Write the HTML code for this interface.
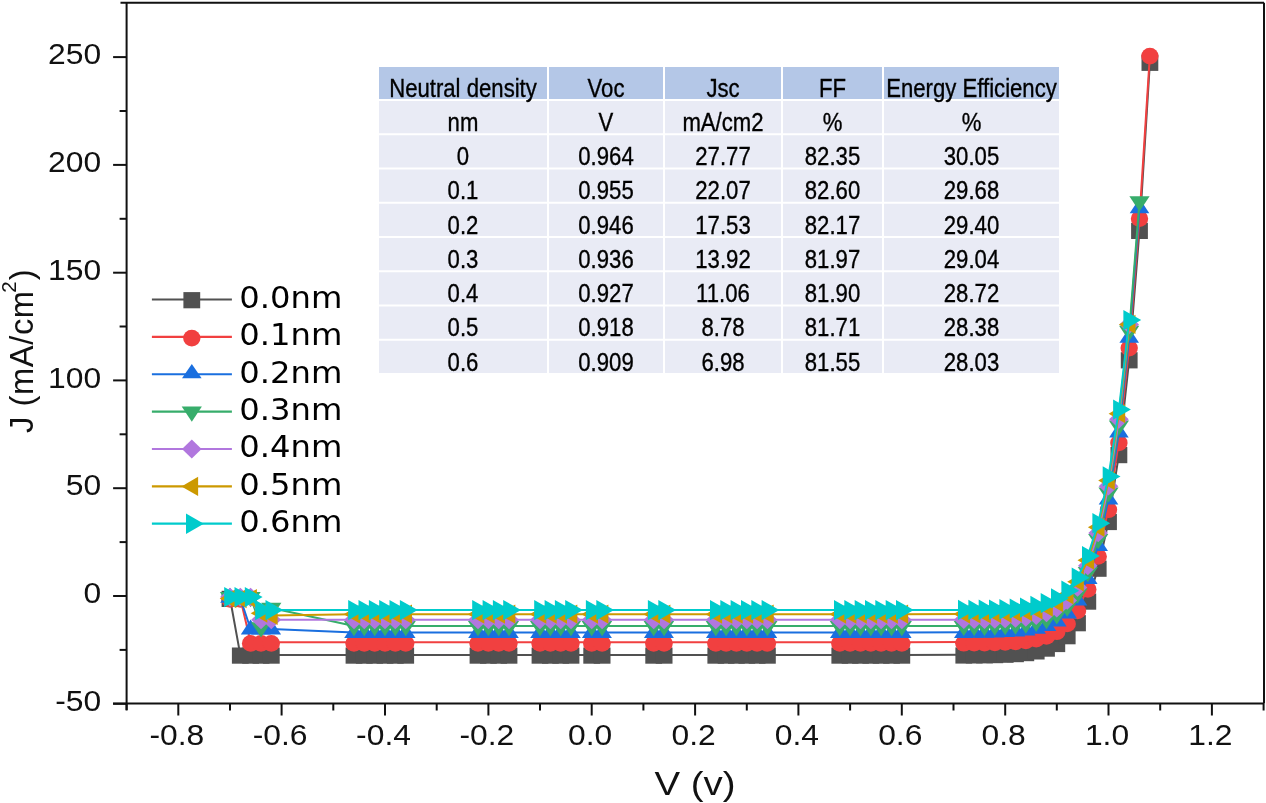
<!DOCTYPE html><html><head><meta charset="utf-8"><title>J-V curves</title><style>html,body{margin:0;padding:0;background:#fff;}svg{display:block;}</style></head><body>
<svg width="1266" height="803" viewBox="0 0 1266 803">
<rect width="1266" height="803" fill="#fff"/>
<g clip-path="url(#clip)">
<path d="M230.0 598.2 L240.3 654.9 L250.6 654.9 L261.0 654.9 L271.3 654.9 L354.0 654.9 L364.3 654.9 L374.7 654.9 L385.0 654.9 L395.3 654.9 L405.7 654.9 L478.0 654.9 L488.4 654.9 L498.7 654.9 L509.0 654.9 L540.0 654.9 L550.4 654.9 L560.7 654.9 L571.0 654.9 L591.7 654.9 L602.1 654.9 L653.7 654.9 L664.1 654.9 L715.8 654.9 L726.1 654.9 L736.4 654.9 L746.8 654.9 L757.1 654.9 L767.4 654.9 L839.8 654.9 L850.1 654.9 L860.5 654.9 L870.8 654.9 L881.1 654.9 L891.5 654.9 L901.8 654.9 L963.8 654.8 L974.2 654.7 L984.5 654.6 L994.8 654.4 L1005.2 654.0 L1015.5 653.4 L1025.8 652.4 L1036.2 650.7 L1046.5 647.9 L1056.8 643.3 L1067.2 635.5 L1077.5 622.5 L1087.8 600.9 L1098.2 568.0 L1108.5 521.3 L1118.9 454.4 L1129.2 359.6 L1139.5 230.2 L1149.9 62.1" fill="none" stroke="#515151" stroke-width="2" stroke-linejoin="round"/>
<g fill="#515151"><rect x="221.6" y="590.8" width="16.8" height="16.2"/><rect x="231.9" y="647.5" width="16.8" height="16.2"/><rect x="242.2" y="647.5" width="16.8" height="16.2"/><rect x="252.6" y="647.5" width="16.8" height="16.2"/><rect x="262.9" y="647.5" width="16.8" height="16.2"/><rect x="345.6" y="647.5" width="16.8" height="16.2"/><rect x="355.9" y="647.5" width="16.8" height="16.2"/><rect x="366.3" y="647.5" width="16.8" height="16.2"/><rect x="376.6" y="647.5" width="16.8" height="16.2"/><rect x="386.9" y="647.5" width="16.8" height="16.2"/><rect x="397.3" y="647.5" width="16.8" height="16.2"/><rect x="469.6" y="647.5" width="16.8" height="16.2"/><rect x="480.0" y="647.5" width="16.8" height="16.2"/><rect x="490.3" y="647.5" width="16.8" height="16.2"/><rect x="500.6" y="647.5" width="16.8" height="16.2"/><rect x="531.6" y="647.5" width="16.8" height="16.2"/><rect x="542.0" y="647.5" width="16.8" height="16.2"/><rect x="552.3" y="647.5" width="16.8" height="16.2"/><rect x="562.6" y="647.5" width="16.8" height="16.2"/><rect x="583.3" y="647.5" width="16.8" height="16.2"/><rect x="593.7" y="647.5" width="16.8" height="16.2"/><rect x="645.3" y="647.5" width="16.8" height="16.2"/><rect x="655.7" y="647.5" width="16.8" height="16.2"/><rect x="707.4" y="647.5" width="16.8" height="16.2"/><rect x="717.7" y="647.5" width="16.8" height="16.2"/><rect x="728.0" y="647.5" width="16.8" height="16.2"/><rect x="738.4" y="647.5" width="16.8" height="16.2"/><rect x="748.7" y="647.5" width="16.8" height="16.2"/><rect x="759.0" y="647.5" width="16.8" height="16.2"/><rect x="831.4" y="647.5" width="16.8" height="16.2"/><rect x="841.7" y="647.5" width="16.8" height="16.2"/><rect x="852.1" y="647.5" width="16.8" height="16.2"/><rect x="862.4" y="647.5" width="16.8" height="16.2"/><rect x="872.7" y="647.5" width="16.8" height="16.2"/><rect x="883.1" y="647.5" width="16.8" height="16.2"/><rect x="893.4" y="647.5" width="16.8" height="16.2"/><rect x="955.4" y="647.4" width="16.8" height="16.2"/><rect x="965.8" y="647.3" width="16.8" height="16.2"/><rect x="976.1" y="647.2" width="16.8" height="16.2"/><rect x="986.4" y="647.0" width="16.8" height="16.2"/><rect x="996.8" y="646.6" width="16.8" height="16.2"/><rect x="1007.1" y="646.0" width="16.8" height="16.2"/><rect x="1017.4" y="645.0" width="16.8" height="16.2"/><rect x="1027.8" y="643.3" width="16.8" height="16.2"/><rect x="1038.1" y="640.5" width="16.8" height="16.2"/><rect x="1048.4" y="635.9" width="16.8" height="16.2"/><rect x="1058.8" y="628.1" width="16.8" height="16.2"/><rect x="1069.1" y="615.1" width="16.8" height="16.2"/><rect x="1079.4" y="593.5" width="16.8" height="16.2"/><rect x="1089.8" y="560.6" width="16.8" height="16.2"/><rect x="1100.1" y="513.9" width="16.8" height="16.2"/><rect x="1110.5" y="447.0" width="16.8" height="16.2"/><rect x="1120.8" y="352.2" width="16.8" height="16.2"/><rect x="1131.1" y="222.8" width="16.8" height="16.2"/><rect x="1141.5" y="54.7" width="16.8" height="16.2"/></g>
<path d="M230.0 598.2 L240.3 598.2 L250.6 642.2 L261.0 642.2 L271.3 642.2 L354.0 642.2 L364.3 642.2 L374.7 642.2 L385.0 642.2 L395.3 642.2 L405.7 642.2 L478.0 642.2 L488.4 642.2 L498.7 642.2 L509.0 642.2 L540.0 642.2 L550.4 642.2 L560.7 642.2 L571.0 642.2 L591.7 642.2 L602.1 642.2 L653.7 642.2 L664.1 642.2 L715.8 642.2 L726.1 642.2 L736.4 642.2 L746.8 642.2 L757.1 642.2 L767.4 642.2 L839.8 642.2 L850.1 642.2 L860.5 642.2 L870.8 642.2 L881.1 642.2 L891.5 642.2 L901.8 642.2 L963.8 642.1 L974.2 642.0 L984.5 641.9 L994.8 641.7 L1005.2 641.3 L1015.5 640.7 L1025.8 639.7 L1036.2 638.0 L1046.5 635.2 L1056.8 630.6 L1067.2 622.8 L1077.5 609.8 L1087.8 588.2 L1098.2 555.3 L1108.5 508.6 L1118.9 441.7 L1129.2 346.9 L1139.5 217.5 L1149.9 54.9" fill="none" stroke="#F14040" stroke-width="2" stroke-linejoin="round"/>
<g fill="#F14040"><ellipse cx="230.0" cy="599.4" rx="8.7" ry="8.3"/><ellipse cx="240.3" cy="599.4" rx="8.7" ry="8.3"/><ellipse cx="250.6" cy="643.4" rx="8.7" ry="8.3"/><ellipse cx="261.0" cy="643.4" rx="8.7" ry="8.3"/><ellipse cx="271.3" cy="643.4" rx="8.7" ry="8.3"/><ellipse cx="354.0" cy="643.4" rx="8.7" ry="8.3"/><ellipse cx="364.3" cy="643.4" rx="8.7" ry="8.3"/><ellipse cx="374.7" cy="643.4" rx="8.7" ry="8.3"/><ellipse cx="385.0" cy="643.4" rx="8.7" ry="8.3"/><ellipse cx="395.3" cy="643.4" rx="8.7" ry="8.3"/><ellipse cx="405.7" cy="643.4" rx="8.7" ry="8.3"/><ellipse cx="478.0" cy="643.4" rx="8.7" ry="8.3"/><ellipse cx="488.4" cy="643.4" rx="8.7" ry="8.3"/><ellipse cx="498.7" cy="643.4" rx="8.7" ry="8.3"/><ellipse cx="509.0" cy="643.4" rx="8.7" ry="8.3"/><ellipse cx="540.0" cy="643.4" rx="8.7" ry="8.3"/><ellipse cx="550.4" cy="643.4" rx="8.7" ry="8.3"/><ellipse cx="560.7" cy="643.4" rx="8.7" ry="8.3"/><ellipse cx="571.0" cy="643.4" rx="8.7" ry="8.3"/><ellipse cx="591.7" cy="643.4" rx="8.7" ry="8.3"/><ellipse cx="602.1" cy="643.4" rx="8.7" ry="8.3"/><ellipse cx="653.7" cy="643.4" rx="8.7" ry="8.3"/><ellipse cx="664.1" cy="643.4" rx="8.7" ry="8.3"/><ellipse cx="715.8" cy="643.4" rx="8.7" ry="8.3"/><ellipse cx="726.1" cy="643.4" rx="8.7" ry="8.3"/><ellipse cx="736.4" cy="643.4" rx="8.7" ry="8.3"/><ellipse cx="746.8" cy="643.4" rx="8.7" ry="8.3"/><ellipse cx="757.1" cy="643.4" rx="8.7" ry="8.3"/><ellipse cx="767.4" cy="643.4" rx="8.7" ry="8.3"/><ellipse cx="839.8" cy="643.4" rx="8.7" ry="8.3"/><ellipse cx="850.1" cy="643.4" rx="8.7" ry="8.3"/><ellipse cx="860.5" cy="643.4" rx="8.7" ry="8.3"/><ellipse cx="870.8" cy="643.4" rx="8.7" ry="8.3"/><ellipse cx="881.1" cy="643.4" rx="8.7" ry="8.3"/><ellipse cx="891.5" cy="643.4" rx="8.7" ry="8.3"/><ellipse cx="901.8" cy="643.4" rx="8.7" ry="8.3"/><ellipse cx="963.8" cy="643.3" rx="8.7" ry="8.3"/><ellipse cx="974.2" cy="643.2" rx="8.7" ry="8.3"/><ellipse cx="984.5" cy="643.1" rx="8.7" ry="8.3"/><ellipse cx="994.8" cy="642.9" rx="8.7" ry="8.3"/><ellipse cx="1005.2" cy="642.5" rx="8.7" ry="8.3"/><ellipse cx="1015.5" cy="641.9" rx="8.7" ry="8.3"/><ellipse cx="1025.8" cy="640.9" rx="8.7" ry="8.3"/><ellipse cx="1036.2" cy="639.2" rx="8.7" ry="8.3"/><ellipse cx="1046.5" cy="636.4" rx="8.7" ry="8.3"/><ellipse cx="1056.8" cy="631.8" rx="8.7" ry="8.3"/><ellipse cx="1067.2" cy="624.0" rx="8.7" ry="8.3"/><ellipse cx="1077.5" cy="611.0" rx="8.7" ry="8.3"/><ellipse cx="1087.8" cy="589.4" rx="8.7" ry="8.3"/><ellipse cx="1098.2" cy="556.5" rx="8.7" ry="8.3"/><ellipse cx="1108.5" cy="509.8" rx="8.7" ry="8.3"/><ellipse cx="1118.9" cy="442.9" rx="8.7" ry="8.3"/><ellipse cx="1129.2" cy="348.1" rx="8.7" ry="8.3"/><ellipse cx="1139.5" cy="218.7" rx="8.7" ry="8.3"/><ellipse cx="1149.9" cy="56.1" rx="8.7" ry="8.3"/></g>
<path d="M230.0 597.1 L240.3 598.2 L250.6 629.0 L261.0 629.0 L271.3 629.0 L354.0 632.4 L364.3 632.4 L374.7 632.4 L385.0 632.4 L395.3 632.4 L405.7 632.4 L478.0 632.4 L488.4 632.4 L498.7 632.4 L509.0 632.4 L540.0 632.4 L550.4 632.4 L560.7 632.4 L571.0 632.4 L591.7 632.4 L602.1 632.4 L653.7 632.4 L664.1 632.4 L715.8 632.4 L726.1 632.4 L736.4 632.4 L746.8 632.4 L757.1 632.4 L767.4 632.4 L839.8 632.4 L850.1 632.4 L860.5 632.4 L870.8 632.4 L881.1 632.4 L891.5 632.4 L901.8 632.4 L963.8 632.3 L974.2 632.2 L984.5 632.1 L994.8 631.9 L1005.2 631.5 L1015.5 630.9 L1025.8 629.9 L1036.2 628.2 L1046.5 625.4 L1056.8 620.8 L1067.2 613.0 L1077.5 600.0 L1087.8 578.4 L1098.2 545.5 L1108.5 498.8 L1118.9 431.9 L1129.2 337.1 L1139.5 207.7" fill="none" stroke="#1A6FDF" stroke-width="2" stroke-linejoin="round"/>
<g fill="#1A6FDF"><path d="M230.0 587.7L239.8 602.7L220.2 602.7Z"/><path d="M240.3 588.8L250.1 603.8L230.5 603.8Z"/><path d="M250.6 619.6L260.4 634.6L240.8 634.6Z"/><path d="M261.0 619.6L270.8 634.6L251.2 634.6Z"/><path d="M271.3 619.6L281.1 634.6L261.5 634.6Z"/><path d="M354.0 623.0L363.8 638.0L344.2 638.0Z"/><path d="M364.3 623.0L374.1 638.0L354.5 638.0Z"/><path d="M374.7 623.0L384.5 638.0L364.9 638.0Z"/><path d="M385.0 623.0L394.8 638.0L375.2 638.0Z"/><path d="M395.3 623.0L405.1 638.0L385.5 638.0Z"/><path d="M405.7 623.0L415.5 638.0L395.9 638.0Z"/><path d="M478.0 623.0L487.8 638.0L468.2 638.0Z"/><path d="M488.4 623.0L498.2 638.0L478.6 638.0Z"/><path d="M498.7 623.0L508.5 638.0L488.9 638.0Z"/><path d="M509.0 623.0L518.8 638.0L499.2 638.0Z"/><path d="M540.0 623.0L549.8 638.0L530.2 638.0Z"/><path d="M550.4 623.0L560.2 638.0L540.6 638.0Z"/><path d="M560.7 623.0L570.5 638.0L550.9 638.0Z"/><path d="M571.0 623.0L580.8 638.0L561.2 638.0Z"/><path d="M591.7 623.0L601.5 638.0L581.9 638.0Z"/><path d="M602.1 623.0L611.9 638.0L592.3 638.0Z"/><path d="M653.7 623.0L663.5 638.0L643.9 638.0Z"/><path d="M664.1 623.0L673.9 638.0L654.3 638.0Z"/><path d="M715.8 623.0L725.6 638.0L706.0 638.0Z"/><path d="M726.1 623.0L735.9 638.0L716.3 638.0Z"/><path d="M736.4 623.0L746.2 638.0L726.6 638.0Z"/><path d="M746.8 623.0L756.6 638.0L737.0 638.0Z"/><path d="M757.1 623.0L766.9 638.0L747.3 638.0Z"/><path d="M767.4 623.0L777.2 638.0L757.6 638.0Z"/><path d="M839.8 623.0L849.6 638.0L830.0 638.0Z"/><path d="M850.1 623.0L859.9 638.0L840.3 638.0Z"/><path d="M860.5 623.0L870.3 638.0L850.7 638.0Z"/><path d="M870.8 623.0L880.6 638.0L861.0 638.0Z"/><path d="M881.1 623.0L890.9 638.0L871.3 638.0Z"/><path d="M891.5 623.0L901.3 638.0L881.7 638.0Z"/><path d="M901.8 623.0L911.6 638.0L892.0 638.0Z"/><path d="M963.8 622.9L973.6 637.9L954.0 637.9Z"/><path d="M974.2 622.8L984.0 637.8L964.4 637.8Z"/><path d="M984.5 622.7L994.3 637.7L974.7 637.7Z"/><path d="M994.8 622.5L1004.6 637.5L985.0 637.5Z"/><path d="M1005.2 622.1L1015.0 637.1L995.4 637.1Z"/><path d="M1015.5 621.5L1025.3 636.5L1005.7 636.5Z"/><path d="M1025.8 620.5L1035.6 635.5L1016.0 635.5Z"/><path d="M1036.2 618.8L1046.0 633.8L1026.4 633.8Z"/><path d="M1046.5 616.0L1056.3 631.0L1036.7 631.0Z"/><path d="M1056.8 611.4L1066.6 626.4L1047.0 626.4Z"/><path d="M1067.2 603.6L1077.0 618.6L1057.4 618.6Z"/><path d="M1077.5 590.6L1087.3 605.6L1067.7 605.6Z"/><path d="M1087.8 569.0L1097.6 584.0L1078.0 584.0Z"/><path d="M1098.2 536.1L1108.0 551.1L1088.4 551.1Z"/><path d="M1108.5 489.4L1118.3 504.4L1098.7 504.4Z"/><path d="M1118.9 422.5L1128.7 437.5L1109.1 437.5Z"/><path d="M1129.2 327.7L1139.0 342.7L1119.4 342.7Z"/><path d="M1139.5 198.3L1149.3 213.3L1129.7 213.3Z"/></g>
<path d="M230.0 597.1 L240.3 597.1 L250.6 597.1 L261.0 627.3 L271.3 607.9 L354.0 626.1 L364.3 626.1 L374.7 626.1 L385.0 626.1 L395.3 626.1 L405.7 626.1 L478.0 626.1 L488.4 626.1 L498.7 626.1 L509.0 626.1 L540.0 626.1 L550.4 626.1 L560.7 626.1 L571.0 626.1 L591.7 626.1 L602.1 626.1 L653.7 626.1 L664.1 626.1 L715.8 626.1 L726.1 626.1 L736.4 626.1 L746.8 626.1 L757.1 626.1 L767.4 626.1 L839.8 626.1 L850.1 626.1 L860.5 626.1 L870.8 626.1 L881.1 626.1 L891.5 626.1 L901.8 626.1 L963.8 626.0 L974.2 625.9 L984.5 625.8 L994.8 625.6 L1005.2 625.2 L1015.5 624.6 L1025.8 623.6 L1036.2 621.9 L1046.5 619.1 L1056.8 614.5 L1067.2 606.7 L1077.5 593.7 L1087.8 572.1 L1098.2 539.2 L1108.5 492.5 L1118.9 425.6 L1129.2 330.8 L1139.5 201.4" fill="none" stroke="#37AD6B" stroke-width="2" stroke-linejoin="round"/>
<g fill="#37AD6B"><path d="M219.9 592.0L240.1 592.0L230.0 607.2Z"/><path d="M230.2 592.0L250.4 592.0L240.3 607.2Z"/><path d="M240.5 592.0L260.7 592.0L250.6 607.2Z"/><path d="M250.9 622.2L271.1 622.2L261.0 637.4Z"/><path d="M261.2 602.8L281.4 602.8L271.3 618.0Z"/><path d="M343.9 621.0L364.1 621.0L354.0 636.2Z"/><path d="M354.2 621.0L374.4 621.0L364.3 636.2Z"/><path d="M364.6 621.0L384.8 621.0L374.7 636.2Z"/><path d="M374.9 621.0L395.1 621.0L385.0 636.2Z"/><path d="M385.2 621.0L405.4 621.0L395.3 636.2Z"/><path d="M395.6 621.0L415.8 621.0L405.7 636.2Z"/><path d="M467.9 621.0L488.1 621.0L478.0 636.2Z"/><path d="M478.3 621.0L498.5 621.0L488.4 636.2Z"/><path d="M488.6 621.0L508.8 621.0L498.7 636.2Z"/><path d="M498.9 621.0L519.1 621.0L509.0 636.2Z"/><path d="M529.9 621.0L550.1 621.0L540.0 636.2Z"/><path d="M540.3 621.0L560.5 621.0L550.4 636.2Z"/><path d="M550.6 621.0L570.8 621.0L560.7 636.2Z"/><path d="M560.9 621.0L581.1 621.0L571.0 636.2Z"/><path d="M581.6 621.0L601.8 621.0L591.7 636.2Z"/><path d="M592.0 621.0L612.2 621.0L602.1 636.2Z"/><path d="M643.6 621.0L663.8 621.0L653.7 636.2Z"/><path d="M654.0 621.0L674.2 621.0L664.1 636.2Z"/><path d="M705.7 621.0L725.9 621.0L715.8 636.2Z"/><path d="M716.0 621.0L736.2 621.0L726.1 636.2Z"/><path d="M726.3 621.0L746.5 621.0L736.4 636.2Z"/><path d="M736.7 621.0L756.9 621.0L746.8 636.2Z"/><path d="M747.0 621.0L767.2 621.0L757.1 636.2Z"/><path d="M757.3 621.0L777.5 621.0L767.4 636.2Z"/><path d="M829.7 621.0L849.9 621.0L839.8 636.2Z"/><path d="M840.0 621.0L860.2 621.0L850.1 636.2Z"/><path d="M850.4 621.0L870.6 621.0L860.5 636.2Z"/><path d="M860.7 621.0L880.9 621.0L870.8 636.2Z"/><path d="M871.0 621.0L891.2 621.0L881.1 636.2Z"/><path d="M881.4 621.0L901.6 621.0L891.5 636.2Z"/><path d="M891.7 621.0L911.9 621.0L901.8 636.2Z"/><path d="M953.7 620.9L973.9 620.9L963.8 636.1Z"/><path d="M964.1 620.8L984.3 620.8L974.2 636.0Z"/><path d="M974.4 620.7L994.6 620.7L984.5 635.9Z"/><path d="M984.7 620.5L1004.9 620.5L994.8 635.7Z"/><path d="M995.1 620.1L1015.3 620.1L1005.2 635.3Z"/><path d="M1005.4 619.5L1025.6 619.5L1015.5 634.7Z"/><path d="M1015.7 618.5L1035.9 618.5L1025.8 633.7Z"/><path d="M1026.1 616.8L1046.3 616.8L1036.2 632.0Z"/><path d="M1036.4 614.0L1056.6 614.0L1046.5 629.2Z"/><path d="M1046.7 609.4L1066.9 609.4L1056.8 624.6Z"/><path d="M1057.1 601.6L1077.3 601.6L1067.2 616.8Z"/><path d="M1067.4 588.6L1087.6 588.6L1077.5 603.8Z"/><path d="M1077.7 567.0L1097.9 567.0L1087.8 582.2Z"/><path d="M1088.1 534.1L1108.3 534.1L1098.2 549.3Z"/><path d="M1098.4 487.4L1118.6 487.4L1108.5 502.6Z"/><path d="M1108.8 420.5L1129.0 420.5L1118.9 435.7Z"/><path d="M1119.1 325.7L1139.3 325.7L1129.2 340.9Z"/><path d="M1129.4 196.3L1149.6 196.3L1139.5 211.5Z"/></g>
<path d="M230.0 597.1 L240.3 597.1 L250.6 597.1 L261.0 619.8 L271.3 619.8 L354.0 619.8 L364.3 619.8 L374.7 619.8 L385.0 619.8 L395.3 619.8 L405.7 619.8 L478.0 619.8 L488.4 619.8 L498.7 619.8 L509.0 619.8 L540.0 619.8 L550.4 619.8 L560.7 619.8 L571.0 619.8 L591.7 619.8 L602.1 619.8 L653.7 619.8 L664.1 619.8 L715.8 619.8 L726.1 619.8 L736.4 619.8 L746.8 619.8 L757.1 619.8 L767.4 619.8 L839.8 619.8 L850.1 619.8 L860.5 619.8 L870.8 619.8 L881.1 619.8 L891.5 619.8 L901.8 619.8 L963.8 619.7 L974.2 619.6 L984.5 619.5 L994.8 619.3 L1005.2 618.9 L1015.5 618.3 L1025.8 617.3 L1036.2 615.6 L1046.5 612.8 L1056.8 608.2 L1067.2 600.4 L1077.5 587.4 L1087.8 565.8 L1098.2 532.9 L1108.5 486.2 L1118.9 419.3 L1129.2 324.5" fill="none" stroke="#B177DE" stroke-width="2" stroke-linejoin="round"/>
<g fill="#B177DE"><path d="M230.0 587.7L239.8 597.1L230.0 606.5L220.2 597.1Z"/><path d="M240.3 587.7L250.1 597.1L240.3 606.5L230.5 597.1Z"/><path d="M250.6 587.7L260.4 597.1L250.6 606.5L240.8 597.1Z"/><path d="M261.0 610.4L270.8 619.8L261.0 629.2L251.2 619.8Z"/><path d="M271.3 610.4L281.1 619.8L271.3 629.2L261.5 619.8Z"/><path d="M354.0 610.4L363.8 619.8L354.0 629.2L344.2 619.8Z"/><path d="M364.3 610.4L374.1 619.8L364.3 629.2L354.5 619.8Z"/><path d="M374.7 610.4L384.5 619.8L374.7 629.2L364.9 619.8Z"/><path d="M385.0 610.4L394.8 619.8L385.0 629.2L375.2 619.8Z"/><path d="M395.3 610.4L405.1 619.8L395.3 629.2L385.5 619.8Z"/><path d="M405.7 610.4L415.5 619.8L405.7 629.2L395.9 619.8Z"/><path d="M478.0 610.4L487.8 619.8L478.0 629.2L468.2 619.8Z"/><path d="M488.4 610.4L498.2 619.8L488.4 629.2L478.6 619.8Z"/><path d="M498.7 610.4L508.5 619.8L498.7 629.2L488.9 619.8Z"/><path d="M509.0 610.4L518.8 619.8L509.0 629.2L499.2 619.8Z"/><path d="M540.0 610.4L549.8 619.8L540.0 629.2L530.2 619.8Z"/><path d="M550.4 610.4L560.2 619.8L550.4 629.2L540.6 619.8Z"/><path d="M560.7 610.4L570.5 619.8L560.7 629.2L550.9 619.8Z"/><path d="M571.0 610.4L580.8 619.8L571.0 629.2L561.2 619.8Z"/><path d="M591.7 610.4L601.5 619.8L591.7 629.2L581.9 619.8Z"/><path d="M602.1 610.4L611.9 619.8L602.1 629.2L592.3 619.8Z"/><path d="M653.7 610.4L663.5 619.8L653.7 629.2L643.9 619.8Z"/><path d="M664.1 610.4L673.9 619.8L664.1 629.2L654.3 619.8Z"/><path d="M715.8 610.4L725.6 619.8L715.8 629.2L706.0 619.8Z"/><path d="M726.1 610.4L735.9 619.8L726.1 629.2L716.3 619.8Z"/><path d="M736.4 610.4L746.2 619.8L736.4 629.2L726.6 619.8Z"/><path d="M746.8 610.4L756.6 619.8L746.8 629.2L737.0 619.8Z"/><path d="M757.1 610.4L766.9 619.8L757.1 629.2L747.3 619.8Z"/><path d="M767.4 610.4L777.2 619.8L767.4 629.2L757.6 619.8Z"/><path d="M839.8 610.4L849.6 619.8L839.8 629.2L830.0 619.8Z"/><path d="M850.1 610.4L859.9 619.8L850.1 629.2L840.3 619.8Z"/><path d="M860.5 610.4L870.3 619.8L860.5 629.2L850.7 619.8Z"/><path d="M870.8 610.4L880.6 619.8L870.8 629.2L861.0 619.8Z"/><path d="M881.1 610.4L890.9 619.8L881.1 629.2L871.3 619.8Z"/><path d="M891.5 610.4L901.3 619.8L891.5 629.2L881.7 619.8Z"/><path d="M901.8 610.4L911.6 619.8L901.8 629.2L892.0 619.8Z"/><path d="M963.8 610.3L973.6 619.7L963.8 629.1L954.0 619.7Z"/><path d="M974.2 610.2L984.0 619.6L974.2 629.0L964.4 619.6Z"/><path d="M984.5 610.1L994.3 619.5L984.5 628.9L974.7 619.5Z"/><path d="M994.8 609.9L1004.6 619.3L994.8 628.7L985.0 619.3Z"/><path d="M1005.2 609.5L1015.0 618.9L1005.2 628.3L995.4 618.9Z"/><path d="M1015.5 608.9L1025.3 618.3L1015.5 627.7L1005.7 618.3Z"/><path d="M1025.8 607.9L1035.6 617.3L1025.8 626.7L1016.0 617.3Z"/><path d="M1036.2 606.2L1046.0 615.6L1036.2 625.0L1026.4 615.6Z"/><path d="M1046.5 603.4L1056.3 612.8L1046.5 622.2L1036.7 612.8Z"/><path d="M1056.8 598.8L1066.6 608.2L1056.8 617.6L1047.0 608.2Z"/><path d="M1067.2 591.0L1077.0 600.4L1067.2 609.8L1057.4 600.4Z"/><path d="M1077.5 578.0L1087.3 587.4L1077.5 596.8L1067.7 587.4Z"/><path d="M1087.8 556.4L1097.6 565.8L1087.8 575.2L1078.0 565.8Z"/><path d="M1098.2 523.5L1108.0 532.9L1098.2 542.3L1088.4 532.9Z"/><path d="M1108.5 476.8L1118.3 486.2L1108.5 495.6L1098.7 486.2Z"/><path d="M1118.9 409.9L1128.7 419.3L1118.9 428.7L1109.1 419.3Z"/><path d="M1129.2 315.1L1139.0 324.5L1129.2 333.9L1119.4 324.5Z"/></g>
<path d="M230.0 598.6 L240.3 598.6 L250.6 598.6 L261.0 613.2 L271.3 615.4 L354.0 614.2 L364.3 614.2 L374.7 614.2 L385.0 614.2 L395.3 614.2 L405.7 614.2 L478.0 614.2 L488.4 614.2 L498.7 614.2 L509.0 614.2 L540.0 614.2 L550.4 614.2 L560.7 614.2 L571.0 614.2 L591.7 614.2 L602.1 614.2 L653.7 614.2 L664.1 614.2 L715.8 614.2 L726.1 614.2 L736.4 614.2 L746.8 614.2 L757.1 614.2 L767.4 614.2 L839.8 614.2 L850.1 614.2 L860.5 614.2 L870.8 614.2 L881.1 614.2 L891.5 614.2 L901.8 614.2 L963.8 614.1 L974.2 614.0 L984.5 613.9 L994.8 613.7 L1005.2 613.3 L1015.5 612.7 L1025.8 611.7 L1036.2 610.0 L1046.5 607.2 L1056.8 602.6 L1067.2 594.8 L1077.5 581.8 L1087.8 560.2 L1098.2 527.3 L1108.5 480.6 L1118.9 413.7 L1129.2 324.4" fill="none" stroke="#CC9900" stroke-width="2" stroke-linejoin="round"/>
<g fill="#CC9900"><path d="M219.7 598.6L236.3 589.0L236.3 608.2Z"/><path d="M230.0 598.6L246.6 589.0L246.6 608.2Z"/><path d="M240.3 598.6L256.9 589.0L256.9 608.2Z"/><path d="M250.7 613.2L267.3 603.6L267.3 622.8Z"/><path d="M261.0 615.4L277.6 605.8L277.6 625.0Z"/><path d="M343.7 614.2L360.3 604.6L360.3 623.8Z"/><path d="M354.0 614.2L370.6 604.6L370.6 623.8Z"/><path d="M364.4 614.2L381.0 604.6L381.0 623.8Z"/><path d="M374.7 614.2L391.3 604.6L391.3 623.8Z"/><path d="M385.0 614.2L401.6 604.6L401.6 623.8Z"/><path d="M395.4 614.2L412.0 604.6L412.0 623.8Z"/><path d="M467.7 614.2L484.3 604.6L484.3 623.8Z"/><path d="M478.1 614.2L494.7 604.6L494.7 623.8Z"/><path d="M488.4 614.2L505.0 604.6L505.0 623.8Z"/><path d="M498.7 614.2L515.3 604.6L515.3 623.8Z"/><path d="M529.7 614.2L546.3 604.6L546.3 623.8Z"/><path d="M540.1 614.2L556.7 604.6L556.7 623.8Z"/><path d="M550.4 614.2L567.0 604.6L567.0 623.8Z"/><path d="M560.7 614.2L577.3 604.6L577.3 623.8Z"/><path d="M581.4 614.2L598.0 604.6L598.0 623.8Z"/><path d="M591.8 614.2L608.4 604.6L608.4 623.8Z"/><path d="M643.4 614.2L660.0 604.6L660.0 623.8Z"/><path d="M653.8 614.2L670.4 604.6L670.4 623.8Z"/><path d="M705.5 614.2L722.1 604.6L722.1 623.8Z"/><path d="M715.8 614.2L732.4 604.6L732.4 623.8Z"/><path d="M726.1 614.2L742.7 604.6L742.7 623.8Z"/><path d="M736.5 614.2L753.1 604.6L753.1 623.8Z"/><path d="M746.8 614.2L763.4 604.6L763.4 623.8Z"/><path d="M757.1 614.2L773.7 604.6L773.7 623.8Z"/><path d="M829.5 614.2L846.1 604.6L846.1 623.8Z"/><path d="M839.8 614.2L856.4 604.6L856.4 623.8Z"/><path d="M850.2 614.2L866.8 604.6L866.8 623.8Z"/><path d="M860.5 614.2L877.1 604.6L877.1 623.8Z"/><path d="M870.8 614.2L887.4 604.6L887.4 623.8Z"/><path d="M881.2 614.2L897.8 604.6L897.8 623.8Z"/><path d="M891.5 614.2L908.1 604.6L908.1 623.8Z"/><path d="M953.5 614.1L970.1 604.5L970.1 623.7Z"/><path d="M963.9 614.0L980.5 604.4L980.5 623.6Z"/><path d="M974.2 613.9L990.8 604.3L990.8 623.5Z"/><path d="M984.5 613.7L1001.1 604.1L1001.1 623.3Z"/><path d="M994.9 613.3L1011.5 603.7L1011.5 622.9Z"/><path d="M1005.2 612.7L1021.8 603.1L1021.8 622.3Z"/><path d="M1015.5 611.7L1032.1 602.1L1032.1 621.3Z"/><path d="M1025.9 610.0L1042.5 600.4L1042.5 619.6Z"/><path d="M1036.2 607.2L1052.8 597.6L1052.8 616.8Z"/><path d="M1046.5 602.6L1063.1 593.0L1063.1 612.2Z"/><path d="M1056.9 594.8L1073.5 585.2L1073.5 604.4Z"/><path d="M1067.2 581.8L1083.8 572.2L1083.8 591.4Z"/><path d="M1077.5 560.2L1094.1 550.6L1094.1 569.8Z"/><path d="M1087.9 527.3L1104.5 517.7L1104.5 536.9Z"/><path d="M1098.2 480.6L1114.8 471.0L1114.8 490.2Z"/><path d="M1108.6 413.7L1125.2 404.1L1125.2 423.3Z"/><path d="M1118.9 324.4L1135.5 314.8L1135.5 334.0Z"/></g>
<path d="M230.0 597.1 L240.3 597.1 L250.6 597.1 L261.0 610.1 L271.3 610.1 L354.0 610.1 L364.3 610.1 L374.7 610.1 L385.0 610.1 L395.3 610.1 L405.7 610.1 L478.0 610.1 L488.4 610.1 L498.7 610.1 L509.0 610.1 L540.0 610.1 L550.4 610.1 L560.7 610.1 L571.0 610.1 L591.7 610.1 L602.1 610.1 L653.7 610.1 L664.1 610.1 L715.8 610.1 L726.1 610.1 L736.4 610.1 L746.8 610.1 L757.1 610.1 L767.4 610.1 L839.8 610.1 L850.1 610.1 L860.5 610.1 L870.8 610.1 L881.1 610.1 L891.5 610.1 L901.8 610.1 L963.8 610.0 L974.2 609.9 L984.5 609.8 L994.8 609.6 L1005.2 609.2 L1015.5 608.6 L1025.8 607.6 L1036.2 605.9 L1046.5 603.1 L1056.8 598.5 L1067.2 590.7 L1077.5 577.7 L1087.8 556.1 L1098.2 523.2 L1108.5 476.5 L1118.9 409.6 L1129.2 320.1" fill="none" stroke="#00CBCC" stroke-width="2" stroke-linejoin="round"/>
<g fill="#00CBCC"><path d="M224.2 586.9L242.0 597.1L224.2 607.2Z"/><path d="M234.5 586.9L252.3 597.1L234.5 607.2Z"/><path d="M244.8 586.9L262.6 597.1L244.8 607.2Z"/><path d="M255.2 600.0L273.0 610.1L255.2 620.2Z"/><path d="M265.5 600.0L283.3 610.1L265.5 620.2Z"/><path d="M348.2 600.0L366.0 610.1L348.2 620.2Z"/><path d="M358.5 600.0L376.3 610.1L358.5 620.2Z"/><path d="M368.9 600.0L386.7 610.1L368.9 620.2Z"/><path d="M379.2 600.0L397.0 610.1L379.2 620.2Z"/><path d="M389.5 600.0L407.3 610.1L389.5 620.2Z"/><path d="M399.9 600.0L417.7 610.1L399.9 620.2Z"/><path d="M472.2 600.0L490.0 610.1L472.2 620.2Z"/><path d="M482.6 600.0L500.4 610.1L482.6 620.2Z"/><path d="M492.9 600.0L510.7 610.1L492.9 620.2Z"/><path d="M503.2 600.0L521.0 610.1L503.2 620.2Z"/><path d="M534.2 600.0L552.0 610.1L534.2 620.2Z"/><path d="M544.6 600.0L562.4 610.1L544.6 620.2Z"/><path d="M554.9 600.0L572.7 610.1L554.9 620.2Z"/><path d="M565.2 600.0L583.0 610.1L565.2 620.2Z"/><path d="M585.9 600.0L603.7 610.1L585.9 620.2Z"/><path d="M596.3 600.0L614.1 610.1L596.3 620.2Z"/><path d="M647.9 600.0L665.7 610.1L647.9 620.2Z"/><path d="M658.3 600.0L676.1 610.1L658.3 620.2Z"/><path d="M710.0 600.0L727.8 610.1L710.0 620.2Z"/><path d="M720.3 600.0L738.1 610.1L720.3 620.2Z"/><path d="M730.6 600.0L748.4 610.1L730.6 620.2Z"/><path d="M741.0 600.0L758.8 610.1L741.0 620.2Z"/><path d="M751.3 600.0L769.1 610.1L751.3 620.2Z"/><path d="M761.6 600.0L779.4 610.1L761.6 620.2Z"/><path d="M834.0 600.0L851.8 610.1L834.0 620.2Z"/><path d="M844.3 600.0L862.1 610.1L844.3 620.2Z"/><path d="M854.7 600.0L872.5 610.1L854.7 620.2Z"/><path d="M865.0 600.0L882.8 610.1L865.0 620.2Z"/><path d="M875.3 600.0L893.1 610.1L875.3 620.2Z"/><path d="M885.7 600.0L903.5 610.1L885.7 620.2Z"/><path d="M896.0 600.0L913.8 610.1L896.0 620.2Z"/><path d="M958.0 599.8L975.8 610.0L958.0 620.1Z"/><path d="M968.4 599.8L986.2 609.9L968.4 620.1Z"/><path d="M978.7 599.6L996.5 609.8L978.7 619.9Z"/><path d="M989.0 599.4L1006.8 609.6L989.0 619.7Z"/><path d="M999.4 599.1L1017.2 609.2L999.4 619.4Z"/><path d="M1009.7 598.4L1027.5 608.6L1009.7 618.7Z"/><path d="M1020.0 597.4L1037.8 607.6L1020.0 617.7Z"/><path d="M1030.4 595.8L1048.2 605.9L1030.4 616.1Z"/><path d="M1040.7 593.0L1058.5 603.1L1040.7 613.3Z"/><path d="M1051.0 588.3L1068.8 598.5L1051.0 608.6Z"/><path d="M1061.4 580.5L1079.2 590.7L1061.4 600.8Z"/><path d="M1071.7 567.6L1089.5 577.7L1071.7 587.9Z"/><path d="M1082.0 545.9L1099.8 556.1L1082.0 566.2Z"/><path d="M1092.4 513.1L1110.2 523.2L1092.4 533.4Z"/><path d="M1102.7 466.3L1120.5 476.5L1102.7 486.6Z"/><path d="M1113.1 399.5L1130.9 409.6L1113.1 419.8Z"/><path d="M1123.4 309.9L1141.2 320.1L1123.4 330.2Z"/></g>
</g>
<defs><clipPath id="clip"><rect x="127" y="3" width="1136" height="699"/></clipPath></defs>
<g stroke="#111" stroke-width="2" fill="none" stroke-linecap="butt">
<path d="M120.5 2.7 H1264 M1264 2.7 V703.5 M126.6 2 V710 M113 703.5 H1264"/>
<path d="M113.1 703.8 H126.6"/>
<path d="M119.6 649.9 H126.6"/>
<path d="M113.1 596.0 H126.6"/>
<path d="M119.6 542.1 H126.6"/>
<path d="M113.1 488.2 H126.6"/>
<path d="M119.6 434.3 H126.6"/>
<path d="M113.1 380.4 H126.6"/>
<path d="M119.6 326.5 H126.6"/>
<path d="M113.1 272.7 H126.6"/>
<path d="M119.6 218.8 H126.6"/>
<path d="M113.1 164.9 H126.6"/>
<path d="M119.6 111.0 H126.6"/>
<path d="M113.1 57.1 H126.6"/>
<path d="M126.6 703.5 V710.5"/>
<path d="M178.3 703.5 V715.5"/>
<path d="M230.0 703.5 V710.5"/>
<path d="M281.6 703.5 V715.5"/>
<path d="M333.3 703.5 V710.5"/>
<path d="M385.0 703.5 V715.5"/>
<path d="M436.7 703.5 V710.5"/>
<path d="M488.4 703.5 V715.5"/>
<path d="M540.0 703.5 V710.5"/>
<path d="M591.7 703.5 V715.5"/>
<path d="M643.4 703.5 V710.5"/>
<path d="M695.1 703.5 V715.5"/>
<path d="M746.8 703.5 V710.5"/>
<path d="M798.4 703.5 V715.5"/>
<path d="M850.1 703.5 V710.5"/>
<path d="M901.8 703.5 V715.5"/>
<path d="M953.5 703.5 V710.5"/>
<path d="M1005.2 703.5 V715.5"/>
<path d="M1056.8 703.5 V710.5"/>
<path d="M1108.5 703.5 V715.5"/>
<path d="M1160.2 703.5 V710.5"/>
<path d="M1211.9 703.5 V715.5"/>
<path d="M1263.6 703.5 V710.5"/>
</g>
<g font-family="Liberation Sans, Arial, sans-serif" font-size="29.6" fill="#111" text-anchor="end">
<text transform="translate(101.2 711.0) scale(1.075 1)">-50</text>
<text transform="translate(101.2 603.2) scale(1.075 1)">0</text>
<text transform="translate(101.2 495.4) scale(1.075 1)">50</text>
<text transform="translate(101.2 387.6) scale(1.075 1)">100</text>
<text transform="translate(101.2 279.9) scale(1.075 1)">150</text>
<text transform="translate(101.2 172.1) scale(1.075 1)">200</text>
<text transform="translate(101.2 64.3) scale(1.075 1)">250</text>
</g>
<g font-family="Liberation Sans, Arial, sans-serif" font-size="29.6" fill="#111" text-anchor="middle">
<text transform="translate(176.8 744.5) scale(1.075 1)">-0.8</text>
<text transform="translate(280.1 744.5) scale(1.075 1)">-0.6</text>
<text transform="translate(383.5 744.5) scale(1.075 1)">-0.4</text>
<text transform="translate(486.9 744.5) scale(1.075 1)">-0.2</text>
<text transform="translate(590.2 744.5) scale(1.075 1)">0.0</text>
<text transform="translate(693.6 744.5) scale(1.075 1)">0.2</text>
<text transform="translate(796.9 744.5) scale(1.075 1)">0.4</text>
<text transform="translate(900.3 744.5) scale(1.075 1)">0.6</text>
<text transform="translate(1003.7 744.5) scale(1.075 1)">0.8</text>
<text transform="translate(1107.0 744.5) scale(1.075 1)">1.0</text>
<text transform="translate(1210.4 744.5) scale(1.075 1)">1.2</text>
</g>
<text font-family="Liberation Sans, Arial, sans-serif" font-size="34" fill="#111" transform="translate(654.5 794.5) scale(1.13 1)">V (v)</text>
<text font-family="Liberation Sans, Arial, sans-serif" font-size="32.7" fill="#111" transform="translate(33.3 433.1) rotate(-90)" textLength="142.2" lengthAdjust="spacing">J (mA/cm</text>
<text font-family="Liberation Sans, Arial, sans-serif" font-size="20.5" fill="#111" transform="translate(16.2 292.8) rotate(-90)">2</text>
<text font-family="Liberation Sans, Arial, sans-serif" font-size="32.7" fill="#111" transform="translate(33.3 280.2) rotate(-90)">)</text>
<path d="M151.9 299.5 H231.9" stroke="#515151" stroke-width="2.2"/>
<g fill="#515151"><rect x="183.4" y="292.1" width="16.8" height="16.2"/></g>
<text font-family="DejaVu Sans, Verdana, sans-serif" font-size="29.4" fill="#000" transform="translate(239.3 307.8) scale(1.096 1)">0.0nm</text>
<path d="M151.9 336.87 H231.9" stroke="#F14040" stroke-width="2.2"/>
<g fill="#F14040"><ellipse cx="191.8" cy="338.1" rx="8.7" ry="8.3"/></g>
<text font-family="DejaVu Sans, Verdana, sans-serif" font-size="29.4" fill="#000" transform="translate(239.3 345.2) scale(1.096 1)">0.1nm</text>
<path d="M151.9 374.24 H231.9" stroke="#1A6FDF" stroke-width="2.2"/>
<g fill="#1A6FDF"><path d="M191.8 364.1L201.6 378.3L182.0 378.3Z"/></g>
<text font-family="DejaVu Sans, Verdana, sans-serif" font-size="29.4" fill="#000" transform="translate(239.3 382.5) scale(1.096 1)">0.2nm</text>
<path d="M151.9 411.61 H231.9" stroke="#37AD6B" stroke-width="2.2"/>
<g fill="#37AD6B"><path d="M181.7 406.5L201.9 406.5L191.8 421.7Z"/></g>
<text font-family="DejaVu Sans, Verdana, sans-serif" font-size="29.4" fill="#000" transform="translate(239.3 419.9) scale(1.096 1)">0.3nm</text>
<path d="M151.9 448.98 H231.9" stroke="#B177DE" stroke-width="2.2"/>
<g fill="#B177DE"><path d="M191.8 439.6L201.6 449.0L191.8 458.4L182.0 449.0Z"/></g>
<text font-family="DejaVu Sans, Verdana, sans-serif" font-size="29.4" fill="#000" transform="translate(239.3 457.3) scale(1.096 1)">0.4nm</text>
<path d="M151.9 486.35 H231.9" stroke="#CC9900" stroke-width="2.2"/>
<g fill="#CC9900"><path d="M181.5 486.4L198.1 476.8L198.1 496.0Z"/></g>
<text font-family="DejaVu Sans, Verdana, sans-serif" font-size="29.4" fill="#000" transform="translate(239.3 494.7) scale(1.096 1)">0.5nm</text>
<path d="M151.9 523.72 H231.9" stroke="#00CBCC" stroke-width="2.2"/>
<g fill="#00CBCC"><path d="M186.0 513.6L203.8 523.7L186.0 533.9Z"/></g>
<text font-family="DejaVu Sans, Verdana, sans-serif" font-size="29.4" fill="#000" transform="translate(239.3 532.0) scale(1.096 1)">0.6nm</text>
<rect x="379" y="67" width="680" height="306" fill="#fff"/>
<rect x="379" y="67.00" width="168" height="32.00" fill="#B4C7E7"/>
<rect x="549" y="67.00" width="114" height="32.00" fill="#B4C7E7"/>
<rect x="665" y="67.00" width="116" height="32.00" fill="#B4C7E7"/>
<rect x="783" y="67.00" width="99" height="32.00" fill="#B4C7E7"/>
<rect x="884" y="67.00" width="175" height="32.00" fill="#B4C7E7"/>
<rect x="379" y="101.00" width="168" height="32.25" fill="#E9EBF5"/>
<rect x="549" y="101.00" width="114" height="32.25" fill="#E9EBF5"/>
<rect x="665" y="101.00" width="116" height="32.25" fill="#E9EBF5"/>
<rect x="783" y="101.00" width="99" height="32.25" fill="#E9EBF5"/>
<rect x="884" y="101.00" width="175" height="32.25" fill="#E9EBF5"/>
<rect x="379" y="135.25" width="168" height="32.25" fill="#E9EBF5"/>
<rect x="549" y="135.25" width="114" height="32.25" fill="#E9EBF5"/>
<rect x="665" y="135.25" width="116" height="32.25" fill="#E9EBF5"/>
<rect x="783" y="135.25" width="99" height="32.25" fill="#E9EBF5"/>
<rect x="884" y="135.25" width="175" height="32.25" fill="#E9EBF5"/>
<rect x="379" y="169.50" width="168" height="32.25" fill="#E9EBF5"/>
<rect x="549" y="169.50" width="114" height="32.25" fill="#E9EBF5"/>
<rect x="665" y="169.50" width="116" height="32.25" fill="#E9EBF5"/>
<rect x="783" y="169.50" width="99" height="32.25" fill="#E9EBF5"/>
<rect x="884" y="169.50" width="175" height="32.25" fill="#E9EBF5"/>
<rect x="379" y="203.75" width="168" height="32.25" fill="#E9EBF5"/>
<rect x="549" y="203.75" width="114" height="32.25" fill="#E9EBF5"/>
<rect x="665" y="203.75" width="116" height="32.25" fill="#E9EBF5"/>
<rect x="783" y="203.75" width="99" height="32.25" fill="#E9EBF5"/>
<rect x="884" y="203.75" width="175" height="32.25" fill="#E9EBF5"/>
<rect x="379" y="238.00" width="168" height="32.25" fill="#E9EBF5"/>
<rect x="549" y="238.00" width="114" height="32.25" fill="#E9EBF5"/>
<rect x="665" y="238.00" width="116" height="32.25" fill="#E9EBF5"/>
<rect x="783" y="238.00" width="99" height="32.25" fill="#E9EBF5"/>
<rect x="884" y="238.00" width="175" height="32.25" fill="#E9EBF5"/>
<rect x="379" y="272.25" width="168" height="32.25" fill="#E9EBF5"/>
<rect x="549" y="272.25" width="114" height="32.25" fill="#E9EBF5"/>
<rect x="665" y="272.25" width="116" height="32.25" fill="#E9EBF5"/>
<rect x="783" y="272.25" width="99" height="32.25" fill="#E9EBF5"/>
<rect x="884" y="272.25" width="175" height="32.25" fill="#E9EBF5"/>
<rect x="379" y="306.50" width="168" height="32.25" fill="#E9EBF5"/>
<rect x="549" y="306.50" width="114" height="32.25" fill="#E9EBF5"/>
<rect x="665" y="306.50" width="116" height="32.25" fill="#E9EBF5"/>
<rect x="783" y="306.50" width="99" height="32.25" fill="#E9EBF5"/>
<rect x="884" y="306.50" width="175" height="32.25" fill="#E9EBF5"/>
<rect x="379" y="340.75" width="168" height="32.25" fill="#E9EBF5"/>
<rect x="549" y="340.75" width="114" height="32.25" fill="#E9EBF5"/>
<rect x="665" y="340.75" width="116" height="32.25" fill="#E9EBF5"/>
<rect x="783" y="340.75" width="99" height="32.25" fill="#E9EBF5"/>
<rect x="884" y="340.75" width="175" height="32.25" fill="#E9EBF5"/>
<g font-family="Liberation Sans, Arial, sans-serif" font-size="25" fill="#000" stroke="#000" stroke-width="0.35" text-anchor="middle">
<text transform="translate(463.0 96.8) scale(0.886 1)">Neutral density</text>
<text transform="translate(606.0 96.8) scale(0.886 1)">Voc</text>
<text transform="translate(723.0 96.8) scale(0.886 1)">Jsc</text>
<text transform="translate(832.5 96.8) scale(0.886 1)">FF</text>
<text transform="translate(971.5 96.8) scale(0.886 1)">Energy Efficiency</text>
<text transform="translate(463.0 130.8) scale(0.886 1)">nm</text>
<text transform="translate(606.0 130.8) scale(0.886 1)">V</text>
<text transform="translate(723.0 130.8) scale(0.886 1)">mA/cm2</text>
<text transform="translate(832.5 130.8) scale(0.886 1)">%</text>
<text transform="translate(971.5 130.8) scale(0.886 1)">%</text>
<text transform="translate(463.0 165.1) scale(0.886 1)">0</text>
<text transform="translate(606.0 165.1) scale(0.886 1)">0.964</text>
<text transform="translate(723.0 165.1) scale(0.886 1)">27.77</text>
<text transform="translate(832.5 165.1) scale(0.886 1)">82.35</text>
<text transform="translate(971.5 165.1) scale(0.886 1)">30.05</text>
<text transform="translate(463.0 199.3) scale(0.886 1)">0.1</text>
<text transform="translate(606.0 199.3) scale(0.886 1)">0.955</text>
<text transform="translate(723.0 199.3) scale(0.886 1)">22.07</text>
<text transform="translate(832.5 199.3) scale(0.886 1)">82.60</text>
<text transform="translate(971.5 199.3) scale(0.886 1)">29.68</text>
<text transform="translate(463.0 233.6) scale(0.886 1)">0.2</text>
<text transform="translate(606.0 233.6) scale(0.886 1)">0.946</text>
<text transform="translate(723.0 233.6) scale(0.886 1)">17.53</text>
<text transform="translate(832.5 233.6) scale(0.886 1)">82.17</text>
<text transform="translate(971.5 233.6) scale(0.886 1)">29.40</text>
<text transform="translate(463.0 267.8) scale(0.886 1)">0.3</text>
<text transform="translate(606.0 267.8) scale(0.886 1)">0.936</text>
<text transform="translate(723.0 267.8) scale(0.886 1)">13.92</text>
<text transform="translate(832.5 267.8) scale(0.886 1)">81.97</text>
<text transform="translate(971.5 267.8) scale(0.886 1)">29.04</text>
<text transform="translate(463.0 302.1) scale(0.886 1)">0.4</text>
<text transform="translate(606.0 302.1) scale(0.886 1)">0.927</text>
<text transform="translate(723.0 302.1) scale(0.886 1)">11.06</text>
<text transform="translate(832.5 302.1) scale(0.886 1)">81.90</text>
<text transform="translate(971.5 302.1) scale(0.886 1)">28.72</text>
<text transform="translate(463.0 336.3) scale(0.886 1)">0.5</text>
<text transform="translate(606.0 336.3) scale(0.886 1)">0.918</text>
<text transform="translate(723.0 336.3) scale(0.886 1)">8.78</text>
<text transform="translate(832.5 336.3) scale(0.886 1)">81.71</text>
<text transform="translate(971.5 336.3) scale(0.886 1)">28.38</text>
<text transform="translate(463.0 370.6) scale(0.886 1)">0.6</text>
<text transform="translate(606.0 370.6) scale(0.886 1)">0.909</text>
<text transform="translate(723.0 370.6) scale(0.886 1)">6.98</text>
<text transform="translate(832.5 370.6) scale(0.886 1)">81.55</text>
<text transform="translate(971.5 370.6) scale(0.886 1)">28.03</text>
</g>
</svg></body></html>
